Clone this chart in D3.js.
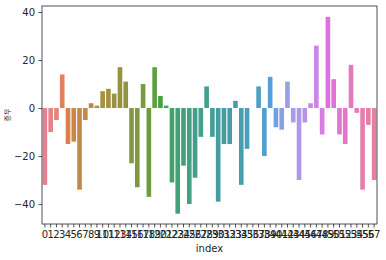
<!DOCTYPE html>
<html><head><meta charset="utf-8">
<script src="https://cdn.jsdelivr.net/npm/d3@7"></script>
<style>body{margin:0;background:#fff}svg{display:block}</style>
</head><body>
<script>
const categories = d3.range(58).map(String);
const values = [-32,-10,-5,14,-15,-14,-34,-5,2,1,7,8,6,17,11,-23,-33,10,-37,17,5,1,-31,-44,-24,-40,-29,-12,9,-12,-39,-15,-15,3,-32,-17,0,9,-20,13,-8,-9,11,-6,-30,-6,2,26,-11,38,12,-11,-15,18,-2,-34,-7,-30];
const yTicks = [-40,-20,0,20,40];
const xLabel = "index";
const yLabel = "증무";

// HUSL (seaborn) palette
const M = [[3.2406,-1.5372,-0.4986],[-0.9689,1.8758,0.0415],[0.0557,-0.2040,1.0570]];
const refU = 0.19784, refV = 0.46834, kappa = 903.2962962, eps = 0.0088564516;
function maxChroma(L,H){
  const hr = H/360*2*Math.PI, sH=Math.sin(hr), cH=Math.cos(hr);
  const sub1 = Math.pow(L+16,3)/1560896; const sub2 = sub1>eps?sub1:L/kappa;
  let res = Infinity;
  for (const [m1,m2,m3] of M){
    const top=(0.99915*m1+1.05122*m2+1.14460*m3)*sub2;
    const rb=0.86330*m3-0.17266*m2, lb=0.12949*m3-0.38848*m1;
    const bottom=(rb*sH+lb*cH)*sub2;
    for (const t of [0,1]){
      const C=L*(top-1.05122*t)/(bottom+0.17266*sH*t);
      if (C>0 && C<res) res=C;
    }
  }
  return res;
}
function huslToRgb(h,s,l){
  const C = maxChroma(l,h)/100*s;
  const hr=h/360*2*Math.PI, U=C*Math.cos(hr), V=C*Math.sin(hr);
  const Y = l>8?Math.pow((l+16)/116,3):l/kappa;
  const vU=U/(13*l)+refU, vV=V/(13*l)+refV;
  const X = 0-(9*Y*vU)/((vU-4)*vV-vU*vV);
  const Z = (9*Y-15*vV*Y-vV*X)/(3*vV);
  const lin=[X,Y,Z];
  return M.map(r=>{
    let c=r[0]*lin[0]+r[1]*lin[1]+r[2]*lin[2];
    c = c<=0.0031308?12.92*c:1.055*Math.pow(c,1/2.4)-0.055;
    return Math.max(0,Math.min(1,c));
  });
}
function huslPalette(n){
  return d3.range(n).map(i=>{
    let h=((i/n)+0.01)%1*359;
    const [r,g,b]=huslToRgb(h,0.9*99,0.65*99);
    const c=d3.hsl(d3.rgb(r*255,g*255,b*255)); c.s*=0.75;
    return c.formatHex();
  });
}
const colors = huslPalette(categories.length);

const W=386,H=260, L=42,R=377,T=6,B=224;
const svg=d3.select("body").append("svg").attr("width",W).attr("height",H);
const x=d3.scaleBand().domain(categories).range([L,R]).paddingInner(0.2).paddingOuter(0.1);
const y=d3.scaleLinear().domain([-48.3,42.5]).range([B,T]);

svg.append("g").selectAll("rect").data(values).join("rect")
  .attr("x",(d,i)=>x(categories[i])).attr("width",x.bandwidth())
  .attr("y",d=>y(Math.max(0,d))).attr("height",d=>Math.abs(y(d)-y(0)))
  .attr("fill",(d,i)=>colors[i]);

const ink="#262626";
const xa=svg.append("g").attr("transform",`translate(0,${B})`)
  .call(d3.axisBottom(x).tickSize(3.5).tickPadding(3.5));
const ya=svg.append("g").attr("transform",`translate(${L},0)`)
  .call(d3.axisLeft(y).tickValues(yTicks).tickSize(3.5).tickPadding(3.5));
[xa,ya].forEach(a=>{
  a.select(".domain").remove();
  a.selectAll("line").attr("stroke",ink).attr("stroke-width",0.8);
  a.selectAll("text").attr("fill",ink).style("font-family","DejaVu Sans").style("font-size","10px");
});
svg.append("rect").attr("x",L).attr("y",T).attr("width",R-L).attr("height",B-T)
  .attr("fill","none").attr("stroke",ink).attr("stroke-width",0.8);

svg.append("text").attr("x",(L+R)/2).attr("y",251.5).attr("text-anchor","middle")
  .attr("fill",ink).style("font-family","DejaVu Sans").style("font-size","10px").text(xLabel);
svg.append("text").attr("transform",`translate(9.5,${(T+B)/2}) rotate(-90)`).attr("text-anchor","middle")
  .attr("fill",ink).style("font-family","'Noto Sans CJK KR'").style("font-size","7px").text(yLabel);
</script>
</body></html>
